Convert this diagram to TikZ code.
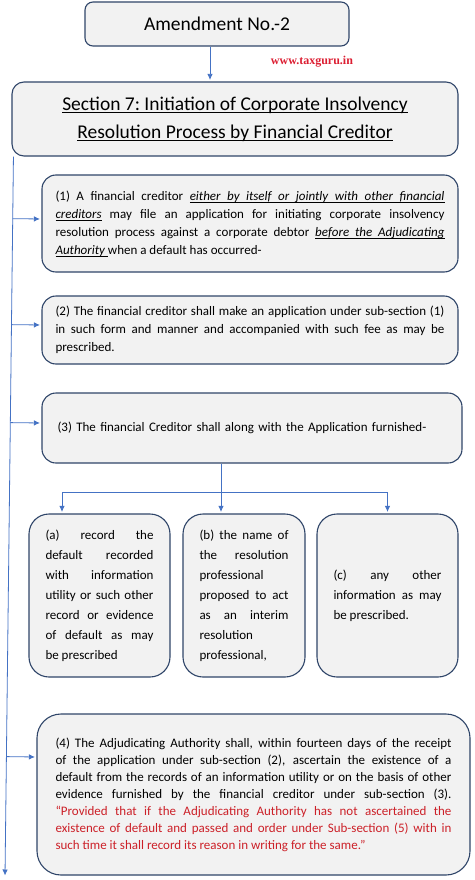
\documentclass[tikz,border=0pt]{standalone}
\usepackage{fontspec}
\setmainfont{Carlito}
\newfontfamily\wmfont{Liberation Serif}
\usetikzlibrary{arrows.meta,calc}
\definecolor{boxline}{RGB}{47,69,105}
\definecolor{boxfill}{RGB}{242,242,242}
\definecolor{linkblue}{RGB}{68,114,196}
\definecolor{provred}{RGB}{204,32,40}
\definecolor{wmred}{RGB}{220,30,50}
\hyphenpenalty=10000
\tolerance=10000

% underline that keeps the spaces stretchable
\newcommand\ulword[1]{\setbox0\hbox{#1}\rlap{\vrule height -0.12em depth 0.17em width \wd0}\box0}
\newcommand\ulspace{\leaders\hrule height -0.12em depth 0.17em\hskip\fontdimen2\font plus\fontdimen3\font minus\fontdimen4\font}
\def\ulphrase#1{\ulstep#1 \ulend}
\def\ulstep#1 #2\ulend{\ulword{#1}\ifx\relax#2\relax\else\ulspace\ulstep#2\ulend\fi}

\tikzset{
  clause/.style={draw=boxline, fill=boxfill, line width=1.1pt, rounded corners=#1,
    inner sep=0pt, align=justify, font=\fontsize{13pt}{18pt}\selectfont},
  clause/.default=14pt,
  link/.style={draw=linkblue, line width=0.8pt, shorten >=1.5pt, ->},
}

\begin{document}
\begin{tikzpicture}[x=1pt,y=-1pt,>={Latex[length=6pt,width=5.5pt]}]
\useasboundingbox (0,0) rectangle (474,880);

% heading boxes
\node[clause=8pt, minimum width=264pt, minimum height=44pt, align=center,
  font=\fontsize{19.5pt}{24pt}\selectfont]          (amend) at (217,24)   {Amendment No.-2};
\node[font=\wmfont\bfseries\fontsize{12pt}{14pt}\selectfont, text=wmred]
                                                    (wm)    at (312,62)   {www.taxguru.in};
\node[clause=12pt, minimum width=446pt, minimum height=74pt, align=center,
  font=\fontsize{19.5pt}{28pt}\selectfont]          (sect)  at (235,119)
  {\ulphrase{Section 7: Initiation of Corporate Insolvency}\\\ulphrase{Resolution Process by Financial Creditor}};

% sub-sections
\node[clause, minimum width=416pt, minimum height=97pt, text width=389pt] (sub1) at (250,223.5)
  {(1) A financial creditor {\itshape\ulphrase{either by itself or jointly with other financial}}\linebreak
   {\itshape\ulphrase{creditors}} may file an application for initiating corporate insolvency\linebreak
   resolution process against a corporate debtor {\itshape\ulphrase{before the Adjudicating}}\linebreak
   {\itshape\ulphrase{Authority}\ulspace}when a default has occurred-};
\node[clause, minimum width=416pt, minimum height=68pt, text width=389pt] (sub2) at (250,330)
  {(2) The financial creditor shall make an application under sub-section (1)\linebreak
   in such form and manner and accompanied with such fee as may be\linebreak
   prescribed.};
\node[clause, minimum width=420pt, minimum height=70pt, text width=389pt, align=left] (sub3) at (252,428)
  {(3) The financial Creditor shall along with the Application furnished-\par\vspace{10pt}};

% items of (3)
\node[clause=20pt, minimum width=141pt, minimum height=163pt, text width=108pt,
  font=\fontsize{13pt}{20pt}\selectfont] (suba) at (99.5,595.5)
  {(a) record the\linebreak default recorded\linebreak with information\linebreak
   utility or such other\linebreak record or evidence\linebreak of default as may\linebreak
   be prescribed};
\node[clause=20pt, minimum width=122pt, minimum height=163pt, text width=89pt,
  font=\fontsize{13pt}{20pt}\selectfont] (subb) at (244,595.5)
  {(b) the name of\linebreak the resolution\linebreak professional\linebreak
   proposed to act\linebreak as an interim\linebreak resolution\linebreak professional,};
\node[clause=20pt, minimum width=141pt, minimum height=163pt, text width=108pt,
  font=\fontsize{13pt}{20pt}\selectfont] (subc) at (387.5,595.5)
  {(c) any other\linebreak information as may\linebreak be prescribed.\par\vspace{9pt}};

\node[clause=24pt, minimum width=433pt, minimum height=161pt, text width=396pt,
  font=\fontsize{13pt}{17pt}\selectfont] (sub4) at (253.5,794.5)
  {(4) The Adjudicating Authority shall, within fourteen days of the receipt\linebreak
   of the application under sub-section (2), ascertain the existence of a\linebreak
   default from the records of an information utility or on the basis of other\linebreak
   evidence furnished by the financial creditor under sub-section (3).\linebreak
   {\color{provred}“Provided that if the Adjudicating Authority has not ascertained the\linebreak
   existence of default and passed and order under Sub-section (5) with in\linebreak
   such time it shall record its reason in writing for the same.”}};

% connectors
\draw[link] ([xshift=-7pt]amend.south) -- ([xshift=-7pt]amend.south |- sect.north);
\coordinate (trunktop) at ([xshift=2pt]sect.south west);
\coordinate (trunkend) at (5,877);
\draw[link] (trunktop) -- (trunkend);
\foreach \n/\dy in {sub1/4.5, sub2/5, sub3/5, sub4/37.5} {
  \coordinate (in-\n) at ([yshift=\dy pt]\n.west);
  \draw[link] ($(trunktop)!(in-\n)!(trunkend)$) -- (in-\n);
}
\coordinate (split) at ($(sub3.south)+(-31,29)$);
\draw[link] (sub3.south -| split) -- (subb.north -| split);
\draw[link] (split) -| ([xshift=-37.5pt]suba.north);
\draw[link] (split) -| (subc.north);
\end{tikzpicture}
\end{document}
